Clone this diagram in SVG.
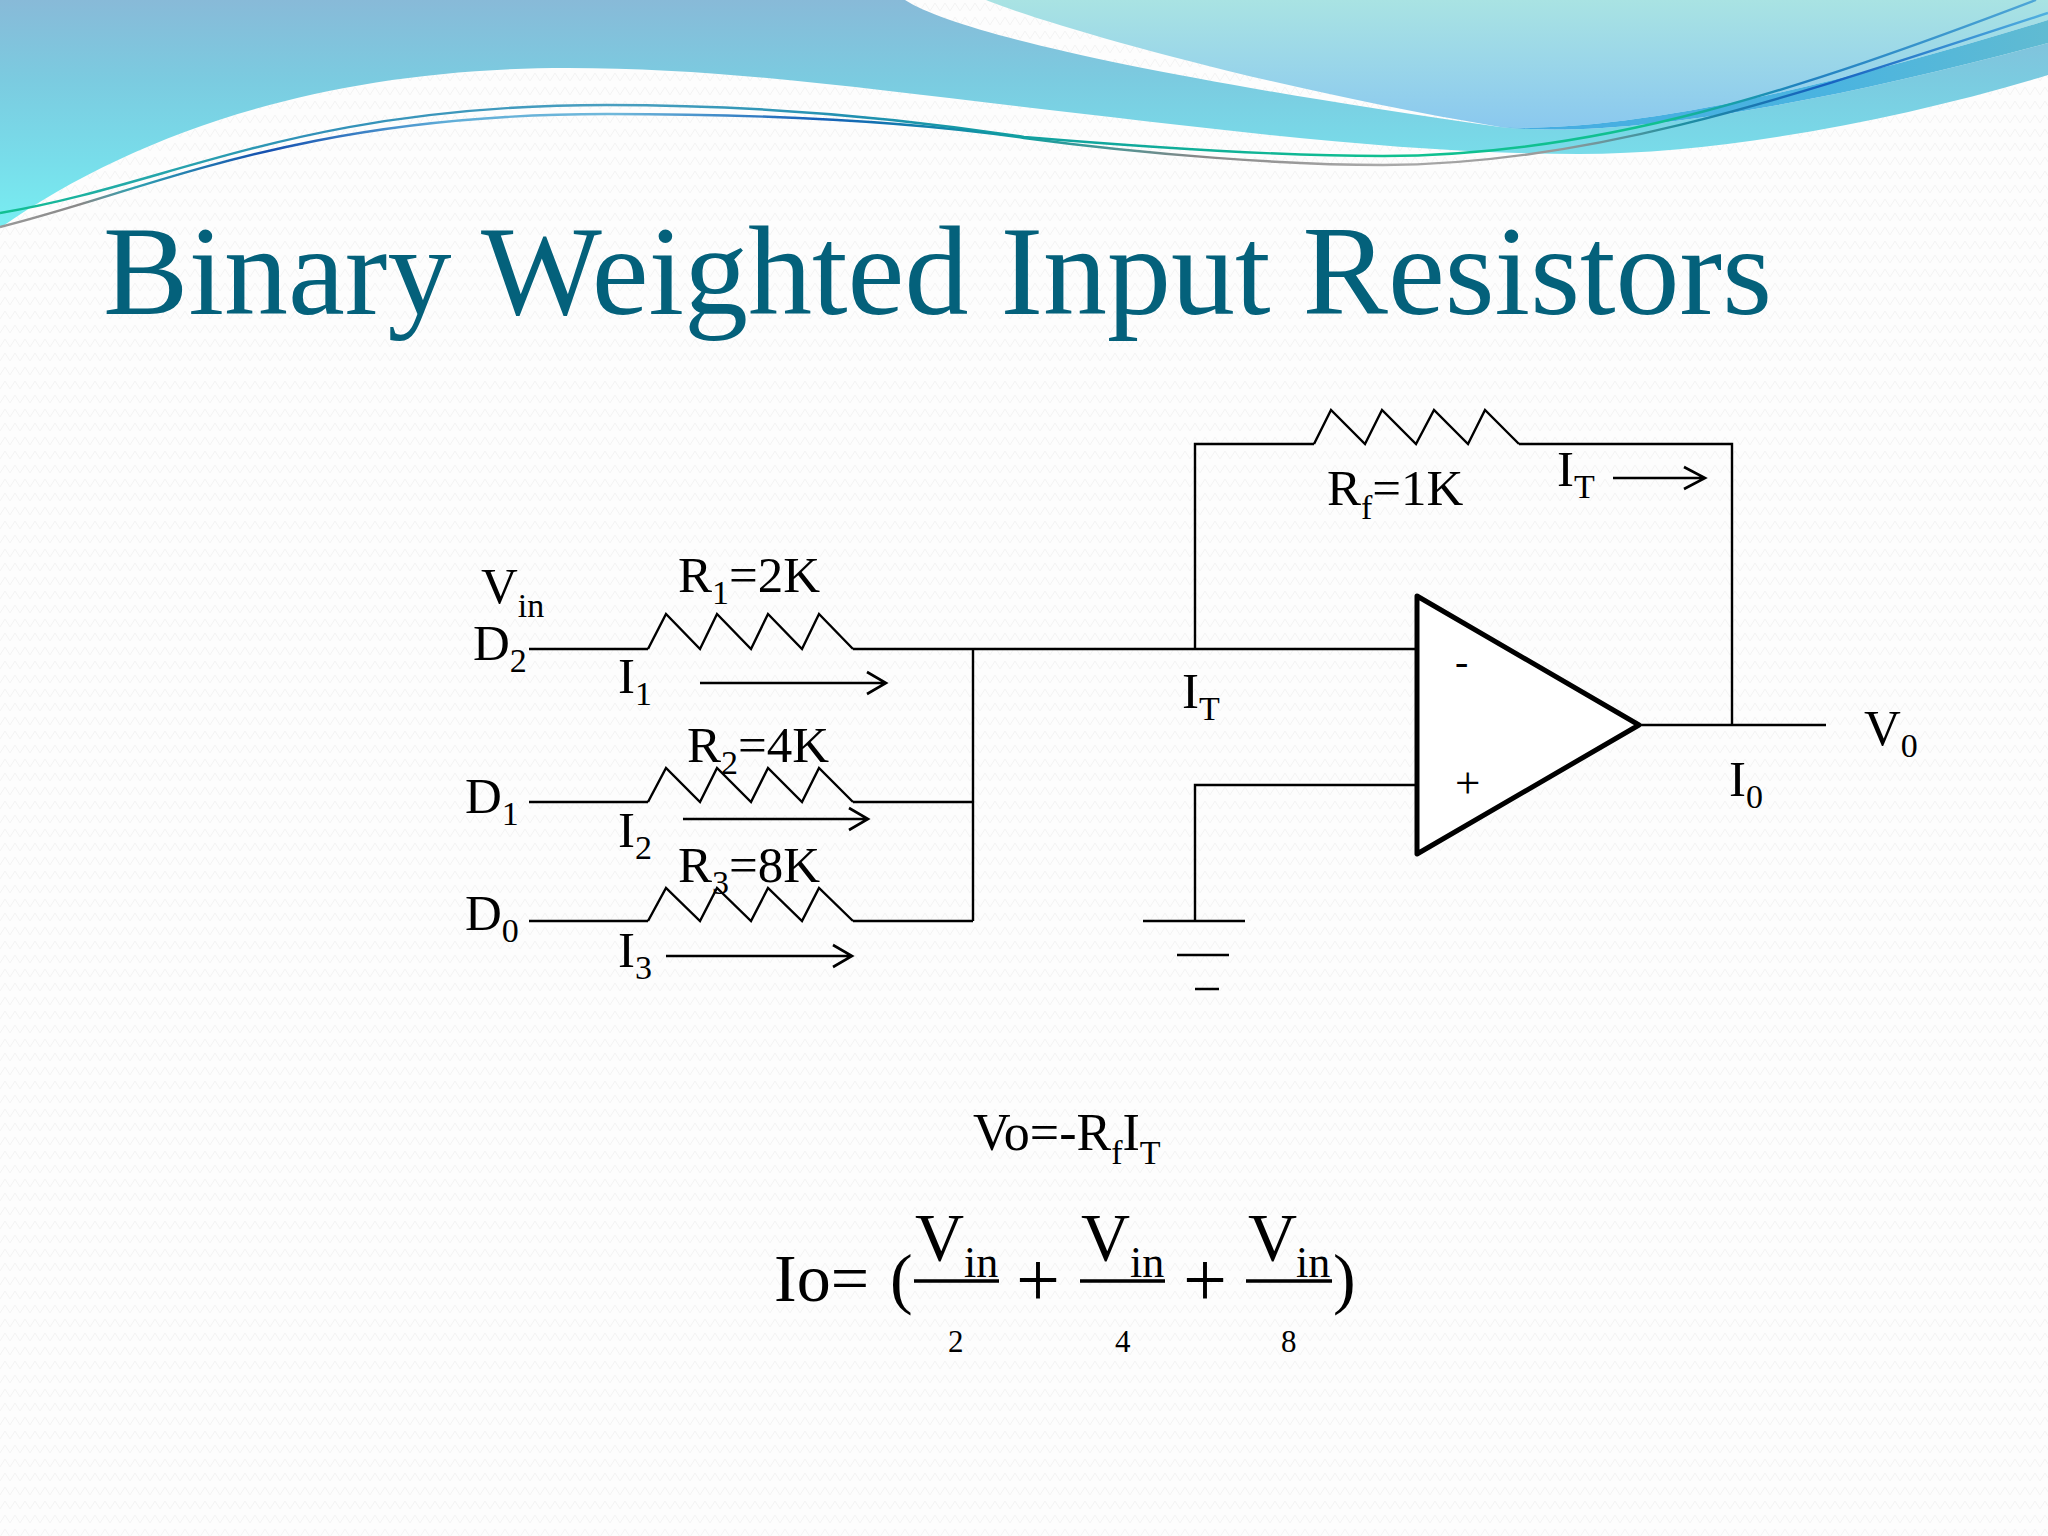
<svg xmlns="http://www.w3.org/2000/svg" width="2048" height="1536" viewBox="0 0 2048 1536">
<defs>
<pattern id="tex" width="10" height="14" patternUnits="userSpaceOnUse"><path d="M0 11L5 3L10 11" fill="none" stroke="#f3f3f3" stroke-width="1"/></pattern>
<linearGradient id="gBlue" gradientUnits="userSpaceOnUse" x1="0" y1="0" x2="0" y2="228"><stop offset="0" stop-color="#88BAD8"/><stop offset=".35" stop-color="#7BCBE0"/><stop offset=".7" stop-color="#78DDEA"/><stop offset="1" stop-color="#78EEF2"/></linearGradient>
<linearGradient id="gLight" gradientUnits="userSpaceOnUse" x1="0" y1="0" x2="0" y2="130"><stop offset="0" stop-color="#A9E3E3"/><stop offset="1" stop-color="#8AC8EF"/></linearGradient>
<linearGradient id="gBand" gradientUnits="userSpaceOnUse" x1="1500" y1="0" x2="2048" y2="0"><stop offset="0" stop-color="#45ACE2"/><stop offset=".6" stop-color="#4AB4E0"/><stop offset="1" stop-color="#60BBD2"/></linearGradient>
<linearGradient id="gL1" gradientUnits="userSpaceOnUse" x1="0" y1="0" x2="2048" y2="0"><stop offset="0" stop-color="#10C090"/><stop offset=".06" stop-color="#22AAA8"/><stop offset=".15" stop-color="#3090B8"/><stop offset=".3" stop-color="#4A9FC0"/><stop offset=".42" stop-color="#2090B0"/><stop offset=".5" stop-color="#10A0A0"/><stop offset=".68" stop-color="#10C090"/><stop offset=".81" stop-color="#10C090"/><stop offset=".88" stop-color="#2080C0"/><stop offset="1" stop-color="#50A8D8"/></linearGradient>
<linearGradient id="gL2" gradientUnits="userSpaceOnUse" x1="0" y1="0" x2="2048" y2="0"><stop offset="0" stop-color="#999"/><stop offset=".04" stop-color="#888"/><stop offset=".065" stop-color="#30A0B0"/><stop offset=".13" stop-color="#1550B0"/><stop offset=".22" stop-color="#60AED8"/><stop offset=".3" stop-color="#70B8DA"/><stop offset=".4" stop-color="#1560B8"/><stop offset=".5" stop-color="#10A0A0"/><stop offset=".585" stop-color="#888"/><stop offset=".675" stop-color="#aaa"/><stop offset=".76" stop-color="#999"/><stop offset=".82" stop-color="#2090A0"/><stop offset=".89" stop-color="#1560C0"/><stop offset="1" stop-color="#50B0E0"/></linearGradient>
</defs>
<style>
text{font-family:"Liberation Serif","Times New Roman",serif;fill:#000;font-size:51px}
.sub{font-size:34px}
.w{fill:none;stroke:#000;stroke-width:2.4}
.a{fill:none;stroke:#000;stroke-width:2.6}
.big{font-size:68px}
.in{font-size:44px}
.den{font-size:31px}
.fl{stroke:#000;stroke-width:3.6}
</style>
<rect width="2048" height="1536" fill="#fdfdfd"/>
<rect width="2048" height="1536" fill="url(#tex)"/>
<g id="banner">
<path d="M0 228C140 130 330 68 568 68C720 68 860 88 1024 107C1200 127 1400 154 1579 154C1720 154 1900 120 2048 75L2048 43C1830 102 1620 140 1500 127C1170 80 960 35 905 0L0 0Z" fill="url(#gBlue)"/>
<path d="M986 0C1040 22 1250 85 1500 127C1620 134 1830 88 2048 20L2048 0Z" fill="url(#gLight)"/>
<path d="M1500 127C1620 134 1830 88 2048 20L2048 43C1830 102 1620 140 1500 127Z" fill="url(#gBand)"/>
<path d="M0 213C170 185 300 105 607 105C760 105 900 118 1024 137C1180 150 1300 156 1383 156C1600 156 1800 90 2036 0" fill="none" stroke="url(#gL1)" stroke-width="2.4"/>
<path d="M0 227C150 190 300 114 607 114C760 114 900 120 1024 138C1150 155 1290 165 1383 165C1600 165 1810 90 2048 13" fill="none" stroke="url(#gL2)" stroke-width="2.4"/>
</g>
<text id="title" x="103" y="314" style="font-size:128px;fill:#04617B">Binary Weighted Input Resistors</text>
<g id="connectors">
<path class="w" d="M529 649H648M853 649H1417M973 649V921M529 802H648M853 802H973M529 921H648M853 921H973"/>
<path class="w" d="M1195 649V444H1314M1519 444H1732V725M1639 725H1826M1417 785H1195V921"/>
<path class="w" d="M1143 921H1245M1177 955H1229M1195 989H1219"/>
<path class="a" d="M700 683H886M867 672L886 683L867 694M683 819H868M849 808L868 819L849 830M666 956H852M833 945L852 956L833 967M1613 478H1705M1684 467L1705 478L1684 489"/>
</g>
<g id="r1"><path class="w" d="M648 649L666 614L700 649L717 614L751 649L768 614L802 649L819 614L853 649"/><text x="678" y="592">R<tspan class="sub" dy="12">1</tspan><tspan dy="-12">=2K</tspan></text></g>
<g id="r2"><path class="w" d="M648 802L666 768L700 802L717 768L751 802L768 768L802 802L819 768L853 802"/><text x="687" y="762">R<tspan class="sub" dy="12">2</tspan><tspan dy="-12">=4K</tspan></text></g>
<g id="r3"><path class="w" d="M648 921L666 888L700 921L717 888L751 921L768 888L802 921L819 888L853 921"/><text x="678" y="882">R<tspan class="sub" dy="12">3</tspan><tspan dy="-12">=8K</tspan></text></g>
<g id="rf"><path class="w" d="M1314 444L1331 410L1365 444L1382 410L1416 444L1434 410L1468 444L1485 410L1519 444"/><text x="1327" y="505">R<tspan class="sub" dy="14">f</tspan><tspan dy="-14">=1K</tspan></text></g>
<g id="opamp"><path d="M1417 596L1639 725L1417 854Z" fill="#fff" stroke="#000" stroke-width="5" stroke-linejoin="round"/><text x="1455" y="675" style="font-size:40px">-</text><text x="1455" y="798" style="font-size:45px">+</text></g>
<g id="labels">
<text x="481" y="603">V<tspan class="sub" dy="14">in</tspan></text>
<text x="473" y="660">D<tspan class="sub" dy="12">2</tspan></text>
<text x="465" y="813">D<tspan class="sub" dy="12">1</tspan></text>
<text x="465" y="930">D<tspan class="sub" dy="12">0</tspan></text>
<text x="618" y="693">I<tspan class="sub" dy="12">1</tspan></text>
<text x="618" y="847">I<tspan class="sub" dy="12">2</tspan></text>
<text x="618" y="967">I<tspan class="sub" dy="12">3</tspan></text>
<text x="1557" y="486">I<tspan class="sub" dy="12">T</tspan></text>
<text x="1182" y="708">I<tspan class="sub" dy="12">T</tspan></text>
<text x="1729" y="796">I<tspan class="sub" dy="12">0</tspan></text>
<text x="1864" y="745">V<tspan class="sub" dy="12">0</tspan></text>
</g>
<g id="equations">
<text x="973" y="1150" style="font-size:52px">Vo=-R<tspan class="sub" dy="14">f</tspan><tspan dy="-14">I</tspan><tspan class="sub" dy="14">T</tspan></text>
<text class="big" x="774" y="1301">Io=</text><text class="big" x="890" y="1301">(</text><text class="big" x="1333" y="1301">)</text>
<text class="big" x="915" y="1260">V</text><text class="in" x="964" y="1277">in</text><path class="fl" d="M914 1281H999"/>
<text class="big" x="1081" y="1260">V</text><text class="in" x="1130" y="1277">in</text><path class="fl" d="M1080 1281H1165"/>
<text class="big" x="1248" y="1260">V</text><text class="in" x="1296" y="1277">in</text><path class="fl" d="M1246 1281H1332"/>
<text x="1016" y="1306" style="font-size:78px">+</text><text x="1183" y="1306" style="font-size:78px">+</text>
<text class="den" x="948" y="1352">2</text><text class="den" x="1115" y="1352">4</text><text class="den" x="1281" y="1352">8</text>
</g>
</svg>
